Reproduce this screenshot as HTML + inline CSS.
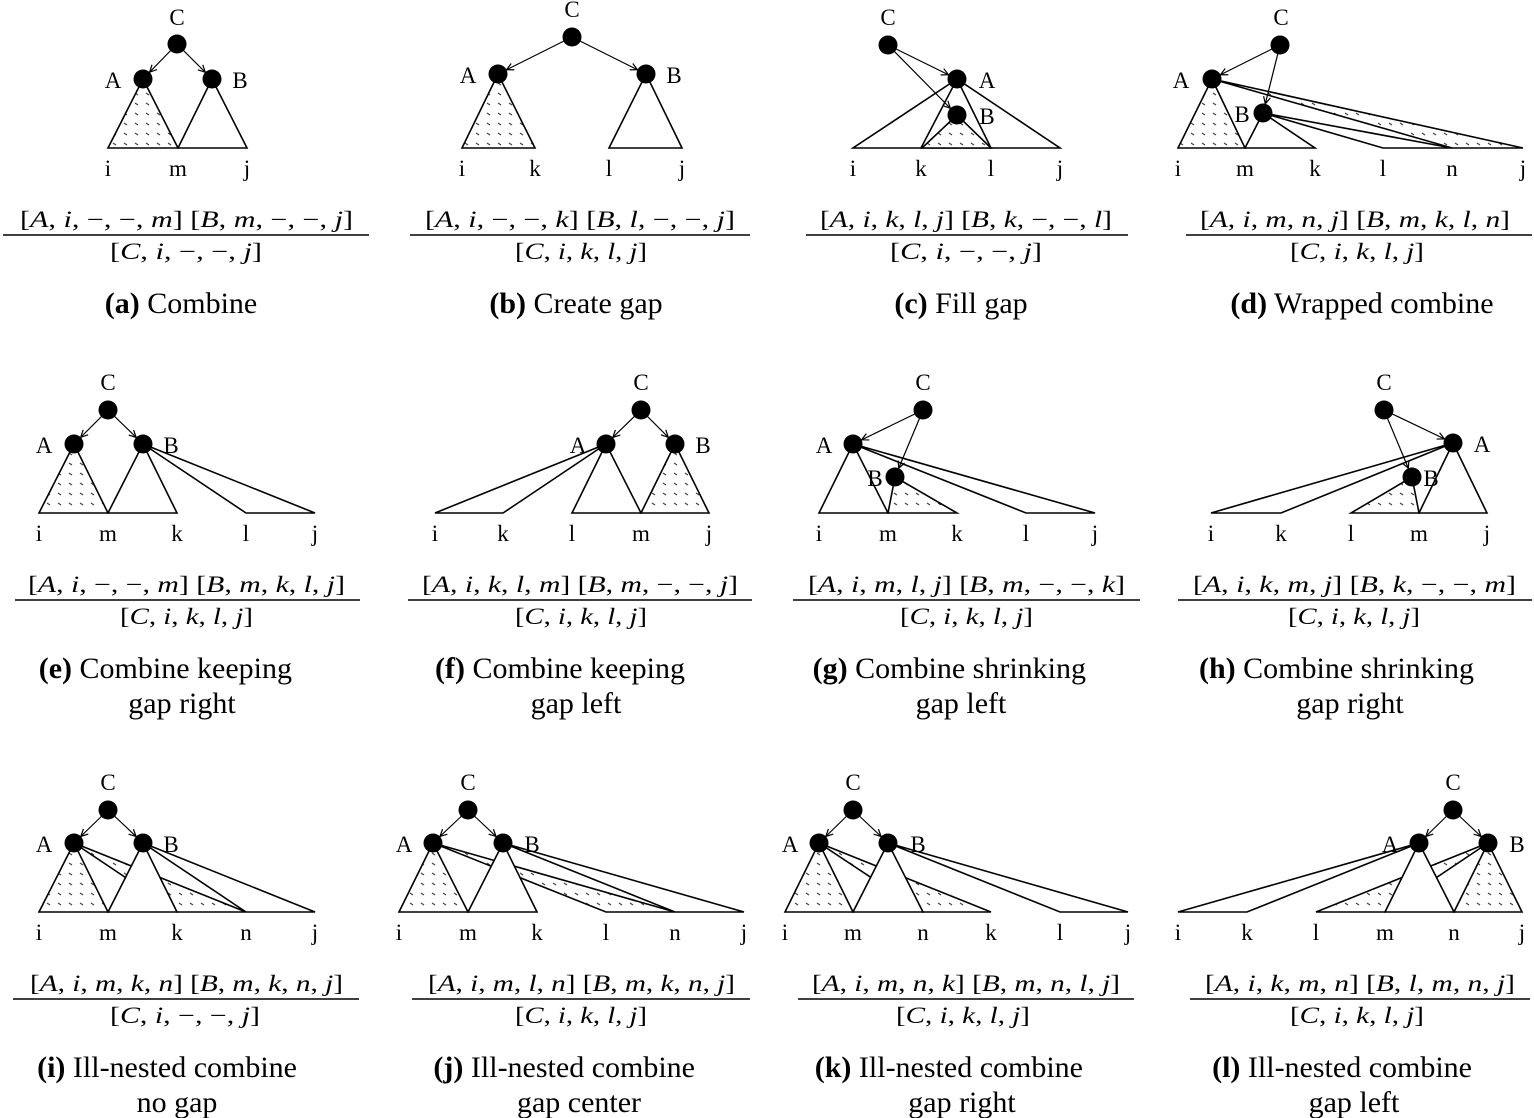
<!DOCTYPE html>
<html><head><meta charset="utf-8"><style>
html,body{margin:0;padding:0;background:#fff}
svg{display:block}
.tr{fill:#fff;stroke:#000;stroke-width:1.6;stroke-linejoin:miter}
.dt{fill:url(#dots);stroke:#000;stroke-width:1.6}
.ln{stroke:#000;stroke-width:1.6;fill:none}
.ar{stroke:#000;stroke-width:1.2;marker-end:url(#ar)}
.lb{font-family:"Liberation Serif",serif;font-size:23px;text-anchor:middle}
.fm{font-family:"Liberation Serif",serif;font-size:23px}
.v{font-style:italic}
.cp{font-family:"Liberation Serif",serif;font-size:30px}
.fl{stroke:#000;stroke-width:1.5}
</style></head><body>
<svg width="1534" height="1118" viewBox="0 0 1534 1118" xmlns="http://www.w3.org/2000/svg">
<defs>
<pattern id="dots" patternUnits="userSpaceOnUse" width="11" height="10"><rect width="11" height="10" fill="#fff"/><path d="M3,3 L6,5" stroke="#444" stroke-width="1.2"/></pattern>
<marker id="ar" markerUnits="userSpaceOnUse" viewBox="-20 -10 40 20" markerWidth="40" markerHeight="20" refX="9.5" refY="0" orient="auto" overflow="visible"><path d="M-7,-3.5 L0,0 L-7,3.5" fill="none" stroke="#000" stroke-width="1.2"/></marker>
</defs>
<rect width="1534" height="1118" fill="#fff"/>

<!-- (a) -->
<polygon class="dt" points="143,79 108,148 178,148"/>
<polygon class="tr" points="212,79 178,148 247,148"/>
<line class="ar" x1="177" y1="44" x2="143" y2="79"/>
<line class="ar" x1="177" y1="44" x2="212" y2="79"/>
<circle cx="177" cy="44" r="9.5"/><circle cx="143" cy="79" r="9.5"/><circle cx="212" cy="79" r="9.5"/>
<text class="lb" x="177" y="25">C</text><text class="lb" x="113" y="88">A</text><text class="lb" x="240" y="88">B</text>
<text class="lb" x="108" y="176">i</text><text class="lb" x="178" y="176">m</text><text class="lb" x="247" y="176">j</text>

<!-- (b) -->
<polygon class="dt" points="498,74 462,148 535,148"/>
<polygon class="tr" points="646,74 609,148 682,148"/>
<line class="ar" x1="572" y1="37" x2="498" y2="74"/>
<line class="ar" x1="572" y1="37" x2="646" y2="74"/>
<circle cx="572" cy="37" r="9.5"/><circle cx="498" cy="74" r="9.5"/><circle cx="646" cy="74" r="9.5"/>
<text class="lb" x="572" y="17">C</text><text class="lb" x="468" y="83">A</text><text class="lb" x="674" y="83">B</text>
<text class="lb" x="462" y="176">i</text><text class="lb" x="535" y="176">k</text><text class="lb" x="609" y="176">l</text><text class="lb" x="682" y="176">j</text>

<!-- (c) -->
<polygon class="tr" points="957,79 853,148 1060,148"/>
<line class="ln" x1="957" y1="79" x2="921" y2="148"/>
<line class="ln" x1="957" y1="79" x2="991" y2="148"/>
<polygon class="dt" points="957,115 922,148 991,148"/>
<line class="ar" x1="888" y1="45" x2="957" y2="79"/>
<line class="ar" x1="888" y1="45" x2="957" y2="115"/>
<circle cx="888" cy="45" r="9.5"/><circle cx="957" cy="79" r="9.5"/><circle cx="957" cy="115" r="9.5"/>
<text class="lb" x="888" y="25">C</text><text class="lb" x="987" y="88">A</text><text class="lb" x="987" y="124">B</text>
<text class="lb" x="853" y="176">i</text><text class="lb" x="921" y="176">k</text><text class="lb" x="991" y="176">l</text><text class="lb" x="1060" y="176">j</text>

<!-- (d) -->
<polygon class="dt" points="1212,79 1178,148 1245,148"/>
<polygon class="dt" points="1212,79 1452,148 1523,148"/>
<polygon class="tr" points="1263,113 1245,148 1315,148"/>
<polygon class="tr" points="1263,113 1383,148 1452,148"/>
<line class="ar" x1="1280" y1="45" x2="1212" y2="79"/>
<line class="ar" x1="1280" y1="45" x2="1263" y2="113"/>
<circle cx="1280" cy="45" r="9.5"/><circle cx="1212" cy="79" r="9.5"/><circle cx="1263" cy="113" r="9.5"/>
<text class="lb" x="1281" y="25">C</text><text class="lb" x="1181" y="88">A</text><text class="lb" x="1242" y="122">B</text>
<text class="lb" x="1178" y="176">i</text><text class="lb" x="1245" y="176">m</text><text class="lb" x="1315" y="176">k</text><text class="lb" x="1383" y="176">l</text><text class="lb" x="1452" y="176">n</text><text class="lb" x="1523" y="176">j</text>

<!-- (e) -->
<polygon class="dt" points="74,444 39,513 108,513"/>
<polygon class="tr" points="143,444 108,513 177,513"/>
<polygon class="tr" points="143,444 246,513 315,513"/>
<line class="ar" x1="108" y1="410" x2="74" y2="444"/>
<line class="ar" x1="108" y1="410" x2="143" y2="444"/>
<circle cx="108" cy="410" r="9.5"/><circle cx="74" cy="444" r="9.5"/><circle cx="143" cy="444" r="9.5"/>
<text class="lb" x="108" y="390">C</text><text class="lb" x="44" y="453">A</text><text class="lb" x="171" y="453">B</text>
<text class="lb" x="39" y="541">i</text><text class="lb" x="108" y="541">m</text><text class="lb" x="177" y="541">k</text><text class="lb" x="246" y="541">l</text><text class="lb" x="315" y="541">j</text>

<!-- (f) -->
<polygon class="tr" points="606,444 435,513 503,513"/>
<polygon class="tr" points="606,444 572,513 641,513"/>
<polygon class="dt" points="675,444 641,513 709,513"/>
<line class="ar" x1="641" y1="410" x2="606" y2="444"/>
<line class="ar" x1="641" y1="410" x2="675" y2="444"/>
<circle cx="641" cy="410" r="9.5"/><circle cx="606" cy="444" r="9.5"/><circle cx="675" cy="444" r="9.5"/>
<text class="lb" x="641" y="390">C</text><text class="lb" x="578" y="453">A</text><text class="lb" x="703" y="453">B</text>
<text class="lb" x="435" y="541">i</text><text class="lb" x="503" y="541">k</text><text class="lb" x="572" y="541">l</text><text class="lb" x="641" y="541">m</text><text class="lb" x="709" y="541">j</text>

<!-- (g) -->
<polygon class="tr" points="853,444 819,513 888,513"/>
<polygon class="tr" points="853,444 1026,513 1095,513"/>
<polygon class="dt" points="895,477 888,513 957,513"/>
<line class="ar" x1="923" y1="410" x2="853" y2="444"/>
<line class="ar" x1="923" y1="410" x2="895" y2="477"/>
<circle cx="923" cy="410" r="9.5"/><circle cx="853" cy="444" r="9.5"/><circle cx="895" cy="477" r="9.5"/>
<text class="lb" x="923" y="390">C</text><text class="lb" x="824" y="453">A</text><text class="lb" x="875" y="486">B</text>
<text class="lb" x="819" y="541">i</text><text class="lb" x="888" y="541">m</text><text class="lb" x="957" y="541">k</text><text class="lb" x="1026" y="541">l</text><text class="lb" x="1095" y="541">j</text>

<!-- (h) -->
<polygon class="tr" points="1453,443 1211,513 1281,513"/>
<polygon class="dt" points="1412,477 1351,513 1419,513"/>
<polygon class="tr" points="1453,443 1419,513 1487,513"/>
<line class="ar" x1="1384" y1="410" x2="1453" y2="443"/>
<line class="ar" x1="1384" y1="410" x2="1412" y2="477"/>
<circle cx="1384" cy="410" r="9.5"/><circle cx="1453" cy="443" r="9.5"/><circle cx="1412" cy="477" r="9.5"/>
<text class="lb" x="1384" y="390">C</text><text class="lb" x="1482" y="452">A</text><text class="lb" x="1431" y="486">B</text>
<text class="lb" x="1211" y="541">i</text><text class="lb" x="1281" y="541">k</text><text class="lb" x="1351" y="541">l</text><text class="lb" x="1419" y="541">m</text><text class="lb" x="1487" y="541">j</text>

<!-- (i) -->
<polygon class="dt" points="74,843 39,912 108,912"/>
<polygon class="dt" points="74,843 177,912 246,912"/>
<polygon class="tr" points="143,843 108,912 177,912"/>
<polygon class="tr" points="143,843 246,912 315,912"/>
<line class="ar" x1="108" y1="810" x2="74" y2="843"/>
<line class="ar" x1="108" y1="810" x2="143" y2="843"/>
<circle cx="108" cy="810" r="9.5"/><circle cx="74" cy="843" r="9.5"/><circle cx="143" cy="843" r="9.5"/>
<text class="lb" x="108" y="790">C</text><text class="lb" x="44" y="852">A</text><text class="lb" x="171" y="852">B</text>
<text class="lb" x="39" y="940">i</text><text class="lb" x="108" y="940">m</text><text class="lb" x="177" y="940">k</text><text class="lb" x="246" y="940">n</text><text class="lb" x="315" y="940">j</text>

<!-- (j) -->
<polygon class="dt" points="433,843 399,912 468,912"/>
<polygon class="dt" points="433,843 606,912 675,912"/>
<polygon class="tr" points="503,843 468,912 537,912"/>
<polygon class="tr" points="503,843 675,912 744,912"/>
<line class="ar" x1="468" y1="810" x2="433" y2="843"/>
<line class="ar" x1="468" y1="810" x2="503" y2="843"/>
<circle cx="468" cy="810" r="9.5"/><circle cx="433" cy="843" r="9.5"/><circle cx="503" cy="843" r="9.5"/>
<text class="lb" x="468" y="790">C</text><text class="lb" x="404" y="852">A</text><text class="lb" x="532" y="852">B</text>
<text class="lb" x="399" y="940">i</text><text class="lb" x="468" y="940">m</text><text class="lb" x="537" y="940">k</text><text class="lb" x="606" y="940">l</text><text class="lb" x="675" y="940">n</text><text class="lb" x="744" y="940">j</text>

<!-- (k) -->
<polygon class="dt" points="819,843 785,912 853,912"/>
<polygon class="dt" points="819,843 923,912 991,912"/>
<polygon class="tr" points="888,843 853,912 923,912"/>
<polygon class="tr" points="888,843 1060,912 1128,912"/>
<line class="ar" x1="853" y1="810" x2="819" y2="843"/>
<line class="ar" x1="853" y1="810" x2="888" y2="843"/>
<circle cx="853" cy="810" r="9.5"/><circle cx="819" cy="843" r="9.5"/><circle cx="888" cy="843" r="9.5"/>
<text class="lb" x="853" y="790">C</text><text class="lb" x="790" y="852">A</text><text class="lb" x="918" y="852">B</text>
<text class="lb" x="785" y="940">i</text><text class="lb" x="853" y="940">m</text><text class="lb" x="923" y="940">n</text><text class="lb" x="991" y="940">k</text><text class="lb" x="1060" y="940">l</text><text class="lb" x="1128" y="940">j</text>

<!-- (l) -->
<polygon class="tr" points="1419,843 1178,912 1247,912"/>
<polygon class="dt" points="1488,843 1316,912 1385,912"/>
<polygon class="tr" points="1419,843 1385,912 1454,912"/>
<polygon class="dt" points="1488,843 1454,912 1522,912"/>
<line class="ar" x1="1453" y1="810" x2="1419" y2="843"/>
<line class="ar" x1="1453" y1="810" x2="1488" y2="843"/>
<circle cx="1453" cy="810" r="9.5"/><circle cx="1419" cy="843" r="9.5"/><circle cx="1488" cy="843" r="9.5"/>
<text class="lb" x="1453" y="790">C</text><text class="lb" x="1390" y="852">A</text><text class="lb" x="1517" y="852">B</text>
<text class="lb" x="1178" y="940">i</text><text class="lb" x="1247" y="940">k</text><text class="lb" x="1316" y="940">l</text><text class="lb" x="1385" y="940">m</text><text class="lb" x="1454" y="940">n</text><text class="lb" x="1522" y="940">j</text>

<!-- ===== Formulas row 1 ===== -->
<text class="fm" x="20" y="227" textLength="333" lengthAdjust="spacingAndGlyphs">[<tspan class="v">A</tspan>, <tspan class="v">i</tspan>, −, −, <tspan class="v">m</tspan>] [<tspan class="v">B</tspan>, <tspan class="v">m</tspan>, −, −, <tspan class="v">j</tspan>]</text>
<line class="fl" x1="3" y1="235" x2="369" y2="235"/>
<text class="fm" x="110" y="259" textLength="152" lengthAdjust="spacingAndGlyphs">[<tspan class="v">C</tspan>, <tspan class="v">i</tspan>, −, −, <tspan class="v">j</tspan>]</text>

<text class="fm" x="425" y="227" textLength="310" lengthAdjust="spacingAndGlyphs">[<tspan class="v">A</tspan>, <tspan class="v">i</tspan>, −, −, <tspan class="v">k</tspan>] [<tspan class="v">B</tspan>, <tspan class="v">l</tspan>, −, −, <tspan class="v">j</tspan>]</text>
<line class="fl" x1="410" y1="235" x2="750" y2="235"/>
<text class="fm" x="515" y="259" textLength="132" lengthAdjust="spacingAndGlyphs">[<tspan class="v">C</tspan>, <tspan class="v">i</tspan>, <tspan class="v">k</tspan>, <tspan class="v">l</tspan>, <tspan class="v">j</tspan>]</text>

<text class="fm" x="820" y="227" textLength="292" lengthAdjust="spacingAndGlyphs">[<tspan class="v">A</tspan>, <tspan class="v">i</tspan>, <tspan class="v">k</tspan>, <tspan class="v">l</tspan>, <tspan class="v">j</tspan>] [<tspan class="v">B</tspan>, <tspan class="v">k</tspan>, −, −, <tspan class="v">l</tspan>]</text>
<line class="fl" x1="806" y1="235" x2="1128" y2="235"/>
<text class="fm" x="890" y="259" textLength="152" lengthAdjust="spacingAndGlyphs">[<tspan class="v">C</tspan>, <tspan class="v">i</tspan>, −, −, <tspan class="v">j</tspan>]</text>

<text class="fm" x="1200" y="227" textLength="310" lengthAdjust="spacingAndGlyphs">[<tspan class="v">A</tspan>, <tspan class="v">i</tspan>, <tspan class="v">m</tspan>, <tspan class="v">n</tspan>, <tspan class="v">j</tspan>] [<tspan class="v">B</tspan>, <tspan class="v">m</tspan>, <tspan class="v">k</tspan>, <tspan class="v">l</tspan>, <tspan class="v">n</tspan>]</text>
<line class="fl" x1="1186" y1="235" x2="1532" y2="235"/>
<text class="fm" x="1290" y="259" textLength="134" lengthAdjust="spacingAndGlyphs">[<tspan class="v">C</tspan>, <tspan class="v">i</tspan>, <tspan class="v">k</tspan>, <tspan class="v">l</tspan>, <tspan class="v">j</tspan>]</text>

<!-- ===== Formulas row 2 ===== -->
<text class="fm" x="28" y="592" textLength="317" lengthAdjust="spacingAndGlyphs">[<tspan class="v">A</tspan>, <tspan class="v">i</tspan>, −, −, <tspan class="v">m</tspan>] [<tspan class="v">B</tspan>, <tspan class="v">m</tspan>, <tspan class="v">k</tspan>, <tspan class="v">l</tspan>, <tspan class="v">j</tspan>]</text>
<line class="fl" x1="15" y1="600" x2="360" y2="600"/>
<text class="fm" x="120" y="624" textLength="133" lengthAdjust="spacingAndGlyphs">[<tspan class="v">C</tspan>, <tspan class="v">i</tspan>, <tspan class="v">k</tspan>, <tspan class="v">l</tspan>, <tspan class="v">j</tspan>]</text>

<text class="fm" x="422" y="592" textLength="316" lengthAdjust="spacingAndGlyphs">[<tspan class="v">A</tspan>, <tspan class="v">i</tspan>, <tspan class="v">k</tspan>, <tspan class="v">l</tspan>, <tspan class="v">m</tspan>] [<tspan class="v">B</tspan>, <tspan class="v">m</tspan>, −, −, <tspan class="v">j</tspan>]</text>
<line class="fl" x1="408" y1="600" x2="752" y2="600"/>
<text class="fm" x="515" y="624" textLength="132" lengthAdjust="spacingAndGlyphs">[<tspan class="v">C</tspan>, <tspan class="v">i</tspan>, <tspan class="v">k</tspan>, <tspan class="v">l</tspan>, <tspan class="v">j</tspan>]</text>

<text class="fm" x="808" y="592" textLength="317" lengthAdjust="spacingAndGlyphs">[<tspan class="v">A</tspan>, <tspan class="v">i</tspan>, <tspan class="v">m</tspan>, <tspan class="v">l</tspan>, <tspan class="v">j</tspan>] [<tspan class="v">B</tspan>, <tspan class="v">m</tspan>, −, −, <tspan class="v">k</tspan>]</text>
<line class="fl" x1="793" y1="600" x2="1140" y2="600"/>
<text class="fm" x="900" y="624" textLength="133" lengthAdjust="spacingAndGlyphs">[<tspan class="v">C</tspan>, <tspan class="v">i</tspan>, <tspan class="v">k</tspan>, <tspan class="v">l</tspan>, <tspan class="v">j</tspan>]</text>

<text class="fm" x="1193" y="592" textLength="323" lengthAdjust="spacingAndGlyphs">[<tspan class="v">A</tspan>, <tspan class="v">i</tspan>, <tspan class="v">k</tspan>, <tspan class="v">m</tspan>, <tspan class="v">j</tspan>] [<tspan class="v">B</tspan>, <tspan class="v">k</tspan>, −, −, <tspan class="v">m</tspan>]</text>
<line class="fl" x1="1178" y1="600" x2="1532" y2="600"/>
<text class="fm" x="1288" y="624" textLength="132" lengthAdjust="spacingAndGlyphs">[<tspan class="v">C</tspan>, <tspan class="v">i</tspan>, <tspan class="v">k</tspan>, <tspan class="v">l</tspan>, <tspan class="v">j</tspan>]</text>

<!-- ===== Formulas row 3 ===== -->
<text class="fm" x="30" y="991" textLength="313" lengthAdjust="spacingAndGlyphs">[<tspan class="v">A</tspan>, <tspan class="v">i</tspan>, <tspan class="v">m</tspan>, <tspan class="v">k</tspan>, <tspan class="v">n</tspan>] [<tspan class="v">B</tspan>, <tspan class="v">m</tspan>, <tspan class="v">k</tspan>, <tspan class="v">n</tspan>, <tspan class="v">j</tspan>]</text>
<line class="fl" x1="13" y1="999" x2="359" y2="999"/>
<text class="fm" x="110" y="1023" textLength="150" lengthAdjust="spacingAndGlyphs">[<tspan class="v">C</tspan>, <tspan class="v">i</tspan>, −, −, <tspan class="v">j</tspan>]</text>

<text class="fm" x="428" y="991" textLength="307" lengthAdjust="spacingAndGlyphs">[<tspan class="v">A</tspan>, <tspan class="v">i</tspan>, <tspan class="v">m</tspan>, <tspan class="v">l</tspan>, <tspan class="v">n</tspan>] [<tspan class="v">B</tspan>, <tspan class="v">m</tspan>, <tspan class="v">k</tspan>, <tspan class="v">n</tspan>, <tspan class="v">j</tspan>]</text>
<line class="fl" x1="412" y1="999" x2="750" y2="999"/>
<text class="fm" x="515" y="1023" textLength="132" lengthAdjust="spacingAndGlyphs">[<tspan class="v">C</tspan>, <tspan class="v">i</tspan>, <tspan class="v">k</tspan>, <tspan class="v">l</tspan>, <tspan class="v">j</tspan>]</text>

<text class="fm" x="812" y="991" textLength="308" lengthAdjust="spacingAndGlyphs">[<tspan class="v">A</tspan>, <tspan class="v">i</tspan>, <tspan class="v">m</tspan>, <tspan class="v">n</tspan>, <tspan class="v">k</tspan>] [<tspan class="v">B</tspan>, <tspan class="v">m</tspan>, <tspan class="v">n</tspan>, <tspan class="v">l</tspan>, <tspan class="v">j</tspan>]</text>
<line class="fl" x1="798" y1="999" x2="1134" y2="999"/>
<text class="fm" x="896" y="1023" textLength="134" lengthAdjust="spacingAndGlyphs">[<tspan class="v">C</tspan>, <tspan class="v">i</tspan>, <tspan class="v">k</tspan>, <tspan class="v">l</tspan>, <tspan class="v">j</tspan>]</text>

<text class="fm" x="1205" y="991" textLength="310" lengthAdjust="spacingAndGlyphs">[<tspan class="v">A</tspan>, <tspan class="v">i</tspan>, <tspan class="v">k</tspan>, <tspan class="v">m</tspan>, <tspan class="v">n</tspan>] [<tspan class="v">B</tspan>, <tspan class="v">l</tspan>, <tspan class="v">m</tspan>, <tspan class="v">n</tspan>, <tspan class="v">j</tspan>]</text>
<line class="fl" x1="1190" y1="999" x2="1530" y2="999"/>
<text class="fm" x="1290" y="1023" textLength="134" lengthAdjust="spacingAndGlyphs">[<tspan class="v">C</tspan>, <tspan class="v">i</tspan>, <tspan class="v">k</tspan>, <tspan class="v">l</tspan>, <tspan class="v">j</tspan>]</text>

<!-- ===== Captions ===== -->
<text class="cp" x="181" y="313" text-anchor="middle"><tspan font-weight="bold">(a)</tspan> Combine</text>
<text class="cp" x="576" y="313" text-anchor="middle"><tspan font-weight="bold">(b)</tspan> Create gap</text>
<text class="cp" x="961" y="313" text-anchor="middle"><tspan font-weight="bold">(c)</tspan> Fill gap</text>
<text class="cp" x="1362" y="313" text-anchor="middle"><tspan font-weight="bold">(d)</tspan> Wrapped combine</text>

<text class="cp" x="292" y="678" text-anchor="end"><tspan font-weight="bold">(e)</tspan> Combine keeping</text>
<text class="cp" x="182" y="713" text-anchor="middle">gap right</text>
<text class="cp" x="685" y="678" text-anchor="end"><tspan font-weight="bold">(f)</tspan> Combine keeping</text>
<text class="cp" x="576" y="713" text-anchor="middle">gap left</text>
<text class="cp" x="1086" y="678" text-anchor="end"><tspan font-weight="bold">(g)</tspan> Combine shrinking</text>
<text class="cp" x="961" y="713" text-anchor="middle">gap left</text>
<text class="cp" x="1474" y="678" text-anchor="end"><tspan font-weight="bold">(h)</tspan> Combine shrinking</text>
<text class="cp" x="1350" y="713" text-anchor="middle">gap right</text>

<text class="cp" x="297" y="1077" text-anchor="end"><tspan font-weight="bold">(i)</tspan> Ill-nested combine</text>
<text class="cp" x="177" y="1112" text-anchor="middle">no gap</text>
<text class="cp" x="695" y="1077" text-anchor="end"><tspan font-weight="bold">(j)</tspan> Ill-nested combine</text>
<text class="cp" x="579" y="1112" text-anchor="middle">gap center</text>
<text class="cp" x="1083" y="1077" text-anchor="end"><tspan font-weight="bold">(k)</tspan> Ill-nested combine</text>
<text class="cp" x="962" y="1112" text-anchor="middle">gap right</text>
<text class="cp" x="1472" y="1077" text-anchor="end"><tspan font-weight="bold">(l)</tspan> Ill-nested combine</text>
<text class="cp" x="1354" y="1112" text-anchor="middle">gap left</text>
</svg>
</body></html>
